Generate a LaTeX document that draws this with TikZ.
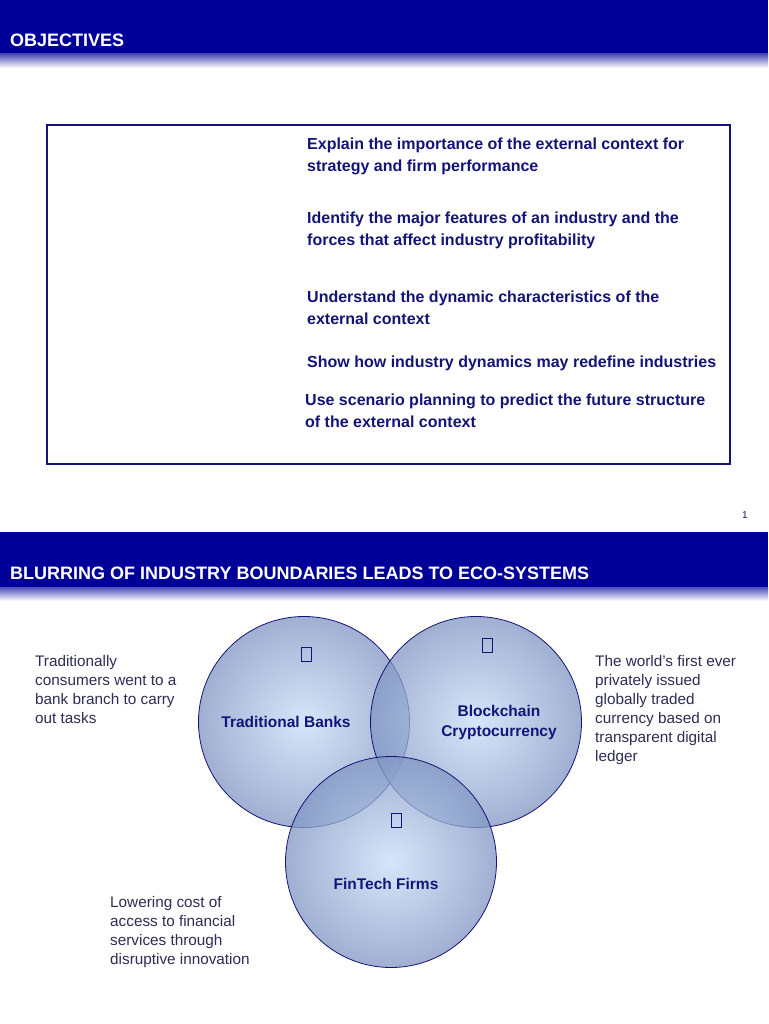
\documentclass[tikz,border=0pt]{standalone}
\usepackage{fontspec}
\setmainfont{Liberation Sans}
\usetikzlibrary{shadings}
\definecolor{hdr}{RGB}{0,0,153}
\definecolor{navy}{RGB}{20,20,120}
\definecolor{sidetxt}{RGB}{45,45,85}
\definecolor{cin}{RGB}{200,222,248}
\definecolor{cout}{RGB}{130,150,195}
\begin{document}
\begin{tikzpicture}[x=1pt,y=-1pt,
  hdrtitle/.style={anchor=base west,text=white,font=\fontsize{18}{20}\selectfont\bfseries,inner sep=0},
  objtxt/.style={anchor=north west,align=left,text=navy,font=\fontsize{16}{21.5}\selectfont\bfseries,inner sep=0},
  sidenote/.style={anchor=north west,align=left,text=sidetxt,font=\fontsize{15.3}{19}\selectfont,inner sep=0},
  vcirc/.style={circle,minimum size=211pt,draw=navy,line width=0.8pt,inner color=cin,outer color=cout,fill opacity=0.75},
  clabel/.style={align=center,text=navy,font=\fontsize{15.5}{20}\selectfont\bfseries},
  tofu/.style={draw=navy,line width=0.7pt,minimum width=10pt,minimum height=14pt,inner sep=0}]
\useasboundingbox (0,0) rectangle (768,1024);
\fill[white] (0,0) rectangle (768,1024);
% header 1
\fill[hdr] (0,0) rectangle (768,54);
\shade[top color=hdr!70,bottom color=white] (0,54) rectangle (768,68);
\node[hdrtitle] (t1) at (10,47) {OBJECTIVES};
% box
\draw[navy,line width=1.2pt] (47,125) rectangle (730,464);
\node[objtxt] (o1) at (307,138) {Explain the importance of the external context for\\strategy and firm performance};
\node[objtxt] (o2) at (307,212) {Identify the major features of an industry and the\\forces that affect industry profitability};
\node[objtxt] (o3) at (307,291) {Understand the dynamic characteristics of the\\external context};
\node[objtxt] (o4) at (307,356) {Show how industry dynamics may redefine industries};
\node[objtxt] (o5) at (305,394) {Use scenario planning to predict the future structure\\of the external context};
\node[anchor=base,font=\fontsize{10}{12}\selectfont,text=navy] (pg) at (745,518) {1};
% header 2
\fill[hdr] (0,532) rectangle (768,587);
\shade[top color=hdr!70,bottom color=white] (0,587) rectangle (768,601);
\node[hdrtitle] (t2) at (10,579) {BLURRING OF INDUSTRY BOUNDARIES LEADS TO ECO-SYSTEMS};
% circles
\node[vcirc] (tb) at (304,722) {};
\node[vcirc] (bc) at (476,722) {};
\node[vcirc] (ft) at (391,862) {};
\node[clabel] (tbl) at (286,722) {Traditional Banks};
\node[clabel] (bcl) at (499,722) {Blockchain\\Cryptocurrency};
\node[clabel] (ftl) at (386,884) {FinTech Firms};
\node[tofu] (x1) at (306,654) {};
\node[tofu] (x2) at (487,645) {};
\node[tofu] (x3) at (396,820) {};
% side notes
\node[sidenote] (n1) at (35,655) {Traditionally\\consumers went to a\\bank branch to carry\\out tasks};
\node[sidenote] (n2) at (595,655) {The world's first ever\\privately issued\\globally traded\\currency based on\\transparent digital\\ledger};
\node[sidenote] (n3) at (110,896) {Lowering cost of\\access to financial\\services through\\disruptive innovation};
\end{tikzpicture}
\end{document}
